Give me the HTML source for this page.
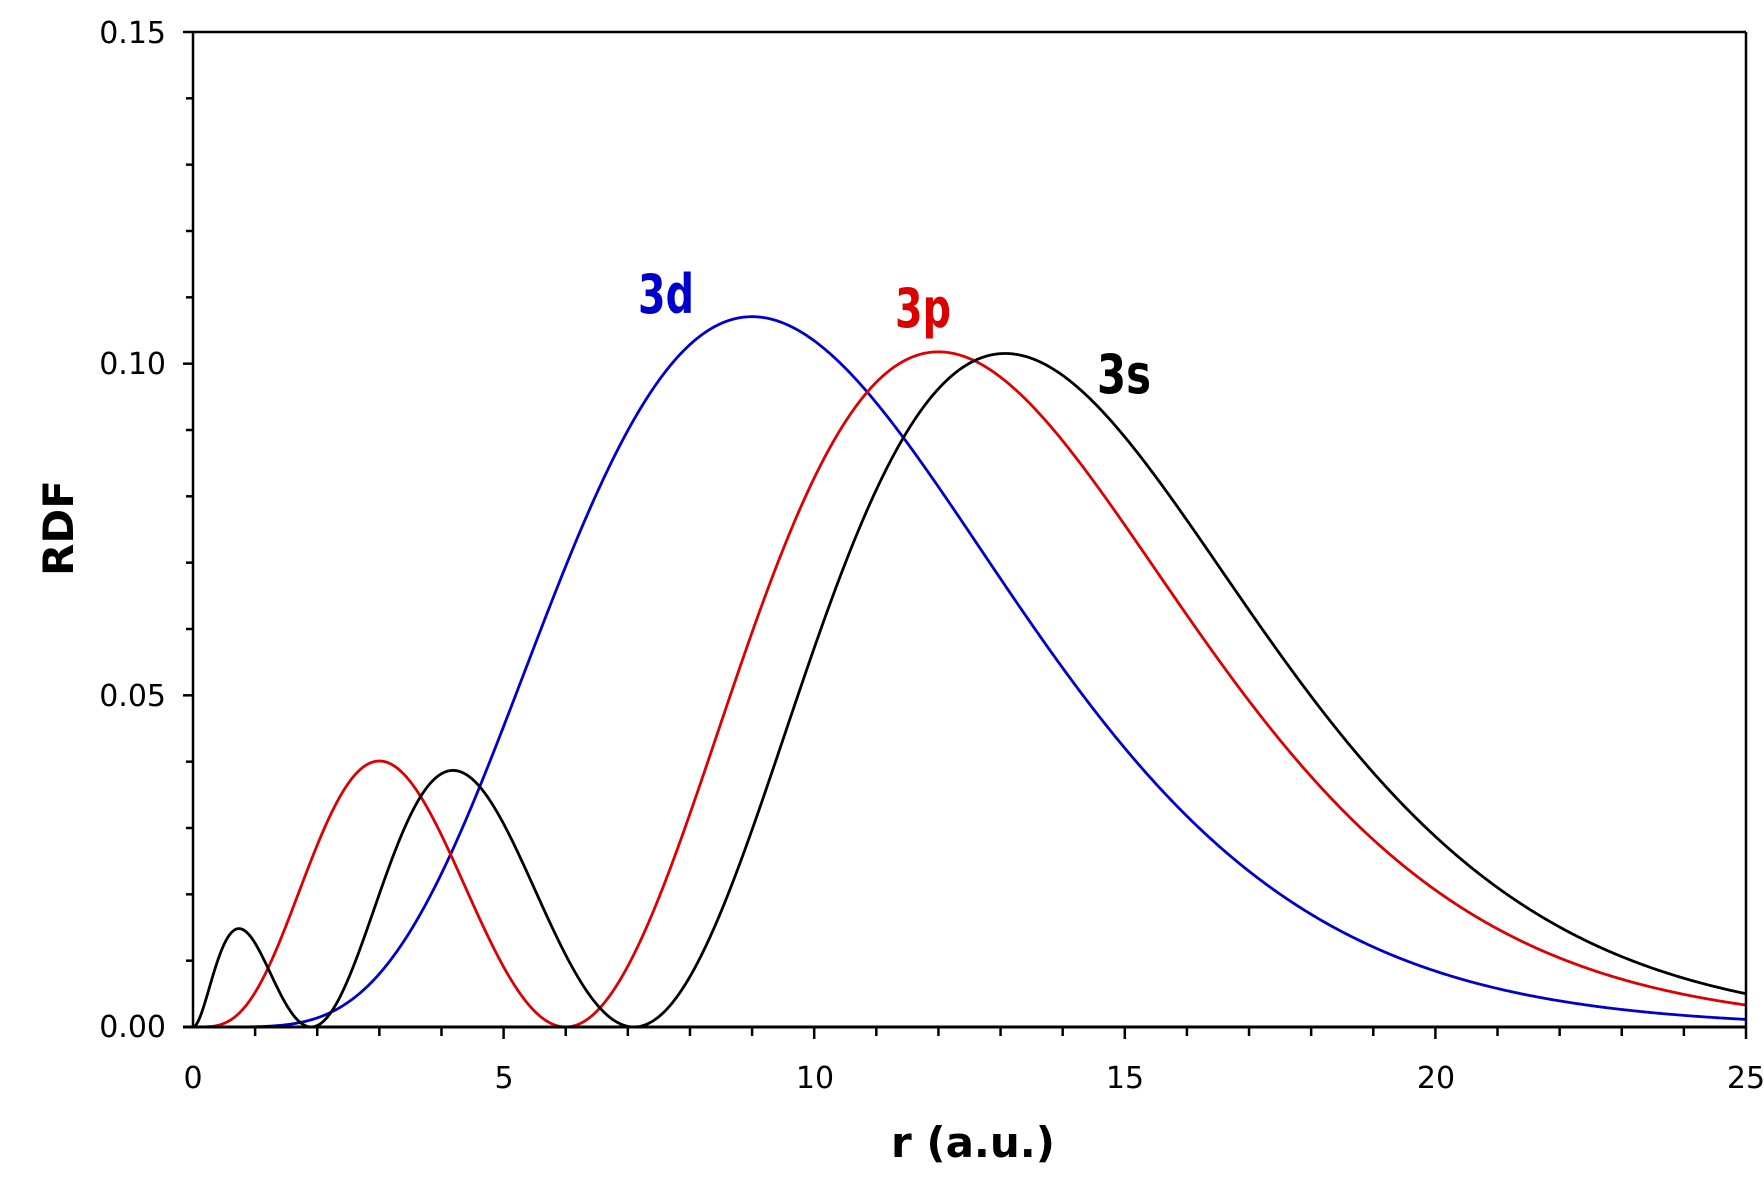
<!DOCTYPE html>
<html><head><meta charset="utf-8"><style>
html,body{margin:0;padding:0;background:#fff;}
svg{display:block;}
</style></head><body>
<svg id="s" width="1764" height="1194" viewBox="0 0 1764 1194" xmlns="http://www.w3.org/2000/svg" font-family="'DejaVu Sans','Liberation Sans',sans-serif">
<rect width="1764" height="1194" fill="#fff"/>
<g id="ticks" stroke="#000" stroke-width="2.5"></g>
<g id="curves" fill="none" stroke-width="2.8" stroke-linejoin="round"></g>
<line x1="193" y1="32" x2="193" y2="1027" stroke="#000" stroke-width="2.5"/>
<line x1="183" y1="32" x2="1746" y2="32" stroke="#000" stroke-width="2.5"/>
<line x1="1746" y1="32" x2="1746" y2="1039" stroke="#000" stroke-width="2.5"/>
<line x1="183" y1="1027" x2="1746" y2="1027" stroke="#000" stroke-width="3"/>
<g font-size="30" fill="#000" text-anchor="end">
<text x="166" y="43">0.15</text>
<text x="166" y="374">0.10</text>
<text x="166" y="706">0.05</text>
<text x="166" y="1037">0.00</text>
</g>
<g font-size="30" fill="#000" text-anchor="middle">
<text x="193" y="1088">0</text>
<text x="504" y="1088">5</text>
<text x="815" y="1088">10</text>
<text x="1125" y="1088">15</text>
<text x="1436" y="1088">20</text>
<text x="1746" y="1088">25</text>
</g>
<text x="973" y="1157" font-size="42" font-weight="bold" text-anchor="middle">r (a.u.)</text>
<text transform="translate(73,528) rotate(-90)" font-size="42" font-weight="bold" text-anchor="middle">RDF</text>
<text x="638" y="313" font-size="54" font-weight="bold" fill="#0000cc" textLength="56" lengthAdjust="spacingAndGlyphs">3d</text>
<text x="895" y="327" font-size="54" font-weight="bold" fill="#dd0000" textLength="56" lengthAdjust="spacingAndGlyphs">3p</text>
<text x="1097" y="393" font-size="54" font-weight="bold" fill="#000" textLength="54" lengthAdjust="spacingAndGlyphs">3s</text>
</svg>
<script>
(function(){
var X0=193,X1=1746,Y0=1027,Ytop=32;
function px(r){return X0+(X1-X0)*r/25;}
function py(v){return Y0-(Y0-Ytop)*v/0.15;}
var t=document.getElementById('ticks'),h='';
for(var i=1;i<15;i++){var y=py(i*0.01);var maj=(i%5==0);h+='<line x1="'+(maj?183:186)+'" y1="'+y+'" x2="193" y2="'+y+'"/>';}
for(var i=1;i<25;i++){var x=px(i);var maj=(i%5==0);h+='<line x1="'+x+'" y1="1027" x2="'+x+'" y2="'+(maj?1039:1036)+'"/>';}
t.innerHTML=h;
function f3s(r){var R=2/(81*Math.sqrt(3))*(27-18*r+2*r*r)*Math.exp(-r/3);return r*r*R*R;}
function f3p(r){var R=8/(27*Math.sqrt(6))*r*(1-r/6)*Math.exp(-r/3);return r*r*R*R;}
function f3d(r){var R=4/(81*Math.sqrt(30))*r*r*Math.exp(-r/3);return r*r*R*R;}
function path(f){var d='';for(var i=0;i<=1000;i++){var r=25*i/1000;d+=(i?'L':'M')+px(r).toFixed(2)+' '+py(f(r)).toFixed(2);}return d;}
document.getElementById('curves').innerHTML=
'<path d="'+path(f3d)+'" stroke="#0000cc"/>'+
'<path d="'+path(f3p)+'" stroke="#dd0000"/>'+
'<path d="'+path(f3s)+'" stroke="#000"/>';
})();
</script>
</body></html>
